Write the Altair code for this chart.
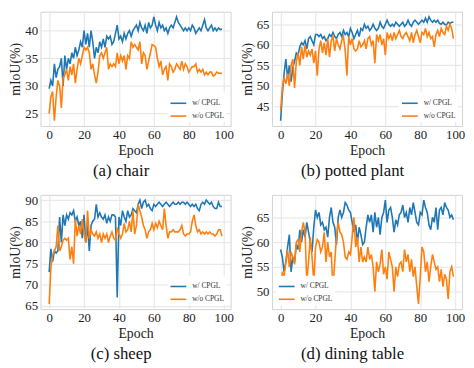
import altair as alt
import pandas as pd

epochs = list(range(100))
series_names = ["w/ CPGL", "w/o CPGL"]
series_colors = ["#1f77b4", "#ff7f0e"]
x_ticks = [0, 20, 40, 60, 80, 100]

chair_w = [29.5, 31, 30, 34, 31.5, 33, 33.5, 35, 30, 35.5,
           33, 35, 34, 36, 35, 37, 35.5, 36.5, 38, 37,
           40, 37.5, 39.5, 37, 40, 38, 35, 37, 36, 38,
           37, 38.5, 37, 39, 38.5, 39, 37.5, 38, 39.5, 41,
           38.5, 39, 38, 39.5, 38.5, 39.5, 40, 39, 40, 40.5,
           41, 40, 41.5, 40.5, 40, 41, 39.5, 41.5, 40.5, 41,
           42.5, 41, 40, 41.5, 40.5, 41, 40, 40.5, 39.5, 40.5,
           41, 40.5, 41.5, 42.5, 41.5, 41, 40.5, 40, 40.5, 40,
           40.5, 40, 41, 40.5, 39.5, 40, 40.5, 40, 41, 42,
           40.5, 40, 40.5, 41, 40, 40.5, 40, 40.5, 40.2, 40.3]
chair_wo = [25, 28, 29, 23.7, 28, 31, 30, 26, 31.5, 32,
            33, 31, 33.5, 32, 34, 30.5, 33, 35, 34, 35.5,
            37, 36.5, 37, 36, 33, 34, 32, 30.5, 32.5, 35.5,
            36, 35, 36, 37, 33, 34, 33.5, 34, 33.5, 36,
            34, 35.5, 34.5, 35.5, 33, 35.5, 35, 38, 37, 37.5,
            37, 36.5, 38, 34, 36, 35.5, 33, 34.5, 36, 37.5,
            37.3, 37, 35, 33.5, 34.5, 32, 33, 33.5, 31, 34,
            33.5, 32.5, 33, 34, 33.5, 33, 34.5, 33, 34, 33.5,
            32.5, 33, 33.5, 33.5, 34, 32.5, 33, 32.5, 33, 32,
            32.5, 32, 32.5, 32.5, 31.8, 32, 32.5, 32.3, 32.3, 32.3]

plant_w = [41.5, 48, 53, 56.5, 52, 55, 51, 54.5, 56, 58,
           57.5, 59.5, 60.5, 60, 61, 59, 61.5, 62, 61, 60,
           62.5, 62.5, 62, 62.5, 61.5, 62, 61, 61.5, 62.5, 62,
           63, 62, 61.5, 62.5, 63, 62, 63.5, 62.5, 63, 62,
           64, 63, 61.5, 62.5, 63.5, 62, 64, 63.5, 65, 64,
           64.5, 63.5, 64, 65, 64, 63.5, 64, 65.5, 64.5, 64,
           65, 66, 65, 64.5, 65, 64.5, 65.5, 65, 64.5, 65,
           65.5, 64.5, 65, 66, 65, 64.5, 65.5, 66, 65.5, 65,
           65.5, 66, 65.5, 66.5, 65.5, 66.8, 66, 65.5, 66, 65.5,
           66, 65.2, 65, 65.5, 65, 64.8, 65.5, 65.2, 65.5, 65.5]
plant_wo = [44, 49.5, 52, 50.5, 53, 50, 55, 56.5, 49.5, 56,
            58, 55, 59.5, 56.5, 60, 57, 58.5, 57.5, 59, 55.5,
            58.5, 52.5, 59, 61, 58, 60.5, 57.5, 61.5, 57, 61,
            62, 58.5, 61.5, 60, 59, 61, 62, 58.5, 52.5, 62,
            60, 61.5, 59, 58.5, 59, 61, 59.5, 60, 61, 59,
            61.5, 62, 60, 61, 55.5, 62.5, 61, 62.5, 60, 61.5,
            57.5, 63, 61.5, 62.5, 61, 63, 61.5, 62.5, 63.5, 62,
            61.5, 62.5, 63, 62, 61, 63, 60.5, 62.5, 63.5, 62,
            60.5, 63, 62.5, 64, 62, 63, 61.5, 62, 59.5, 62.5,
            63.5, 62, 64, 63, 62.5, 64.5, 63.5, 65, 64, 61.5]

sheep_w = [73, 78.5, 75.5, 78, 77.5, 78, 86, 80, 86.5, 84,
           86.5, 85.5, 87, 86.5, 87.5, 85, 86, 84, 85, 81,
           86.5, 80, 84, 78, 84, 85, 85.5, 89, 86, 87,
           86, 85.5, 86.5, 84.5, 86, 85, 86.5, 86.5, 86, 67,
           86, 84, 87.5, 86, 85, 87.5, 86, 86.5, 88, 87.5,
           87, 89, 90, 88, 89.5, 90, 88.5, 89, 88, 87.5,
           89, 88.5, 89, 89.5, 89, 88.5, 89, 89.5, 89, 88.5,
           89, 89.5, 89, 89, 89.5, 89, 89.5, 89.5, 89, 89.5,
           89, 88.5, 89, 88.5, 89, 88, 87.5, 89, 89.5, 89,
           90, 89.5, 89, 89.5, 88.5, 88, 88, 89.5, 88.5, 88.5]
sheep_wo = [65.5, 74, 77, 78, 79, 84, 78, 79, 80.5, 81,
            80.5, 81, 76, 79, 75, 85.5, 81.5, 84, 82, 85.5,
            82, 80, 87.5, 81, 83, 82, 81.5, 82.5, 81, 82,
            80, 82, 81, 82, 80, 81.5, 82.5, 81, 80.5, 83.5,
            82, 81, 82, 84.5, 82.5, 83, 85, 82.5, 87.5, 82,
            84, 89, 87.5, 86, 84, 83, 81, 82.5, 83, 84.5,
            83, 84.5, 83.5, 85, 84, 83, 88, 84, 81, 82.5,
            82.5, 83, 82.5, 82.5, 82.5, 83, 84, 82, 81.5, 82,
            82, 82.5, 85, 86.5, 84, 82.5, 83, 82, 82.5, 82,
            82.5, 82, 82.5, 82, 82, 81.5, 82, 83, 83, 81.5]

table_w = [58.5, 57, 54, 56, 59, 61.5, 54, 57, 56, 59.5,
           58.5, 62.5, 60, 62.5, 61, 64, 62, 60, 58, 63,
           66.5, 65, 66, 63.5, 64, 62.5, 63, 61, 65, 67,
           64, 63, 59.5, 65, 66.5, 65, 66, 68, 67.5, 66.5,
           66, 64, 62, 63.5, 60, 63, 61.5, 59.5, 60, 63,
           65.5, 64, 65.5, 62, 66, 63, 65, 61.5, 65, 66,
           68.5, 64, 66.5, 67, 65, 62, 64.5, 63.5, 65.5, 66,
           67.5, 65, 66, 64, 67, 65.5, 68, 66, 64, 63.5,
           66, 65.5, 68.5, 67, 66, 63.5, 62.5, 65, 64, 67,
           62.5, 66.5, 67, 65.5, 68, 67, 66.5, 65, 65.5, 64.5]
table_wo = [50, 54, 53, 56, 58.5, 55, 58, 57, 55.5, 60,
            60.5, 58, 62, 64, 62, 52, 56, 61, 57, 52,
            59, 60.5, 60, 58, 59, 62, 56, 60, 57, 58,
            50.5, 56, 61, 64, 62, 61.5, 60, 57, 56.5, 58,
            57.5, 61, 65, 59, 61, 56, 59, 56, 57, 56,
            59, 56.5, 57.5, 55, 50, 56, 54, 55.5, 58.5, 53.5,
            55, 52.5, 58, 56.5, 55, 50, 55, 53, 55.5, 56,
            54, 58.5, 56, 57.5, 54, 56.5, 53, 55, 51, 47.5,
            53, 59, 58, 54, 56, 52, 55, 57.5, 56, 54.5,
            55, 52, 54.5, 51, 53.5, 52.5, 48.5, 54, 55, 53]

FONT = "Liberation Serif"
PW, PH = 193, 116


def panel(w, wo, yticks, caption, legend_orient):
    df = pd.DataFrame({
        "epoch": epochs + epochs,
        "miou": w + wo,
        "series": [series_names[0]] * len(w) + [series_names[1]] * len(wo),
    })
    lo, hi = min(w + wo), max(w + wo)
    pad = 0.05 * (hi - lo)
    return alt.Chart(df).mark_line(strokeWidth=1.6, clip=True).encode(
        x=alt.X("epoch:Q",
                scale=alt.Scale(domain=[-4.95, 103.95], nice=False, zero=False),
                axis=alt.Axis(values=x_ticks, title="Epoch", format="d")),
        y=alt.Y("miou:Q",
                scale=alt.Scale(domain=[lo - pad, hi + pad], nice=False, zero=False),
                axis=alt.Axis(values=yticks, title="mIoU(%)", format="d")),
        color=alt.Color("series:N",
                        scale=alt.Scale(domain=series_names, range=series_colors),
                        legend=alt.Legend(title=None, orient=legend_orient, offset=4,
                                          padding=2, symbolType="stroke", symbolSize=256,
                                          symbolStrokeWidth=1.6, labelFont=FONT,
                                          labelFontSize=7.5, labelColor="#333333",
                                          rowPadding=-3, labelOffset=5,
                                          fillColor="white")),
        order=alt.Order("epoch:Q"),
    ).properties(
        width=PW, height=PH,
        title=alt.TitleParams(caption, orient="bottom", font=FONT, fontSize=17,
                              fontWeight="normal", color="#111111", offset=6,
                              anchor="middle", frame="bounds"),
    )


a = panel(chair_w, chair_wo, [25, 30, 35, 40], "(a) chair", "bottom-right")
b = panel(plant_w, plant_wo, [45, 50, 55, 60, 65], "(b) potted plant", "bottom-right")
c = panel(sheep_w, sheep_wo, [65, 70, 75, 80, 85, 90], "(c) sheep", "bottom-right")
d = panel(table_w, table_wo, [50, 55, 60, 65], "(d) dining table", "bottom-left")

row1 = alt.hconcat(a, b, spacing=5).resolve_scale(color="independent").resolve_legend(color="independent")
row2 = alt.hconcat(c, d, spacing=5).resolve_scale(color="independent").resolve_legend(color="independent")

chart = alt.vconcat(row1, row2, spacing=13).resolve_scale(
    color="independent").resolve_legend(color="independent").properties(
    padding=0, background="white"
).configure_axis(
    labelFont=FONT, labelFontSize=13, labelColor="#222222", labelPadding=3,
    titleFont=FONT, titleFontSize=14, titleFontWeight="normal", titleColor="#222222",
    titlePadding=2, domain=False, ticks=False, grid=True, gridColor="#e4e4e4",
    gridWidth=1,
).configure_view(stroke="#d2d2d2", strokeWidth=1)

chart.save("out.html", embed_options={"renderer": "svg", "actions": False})
